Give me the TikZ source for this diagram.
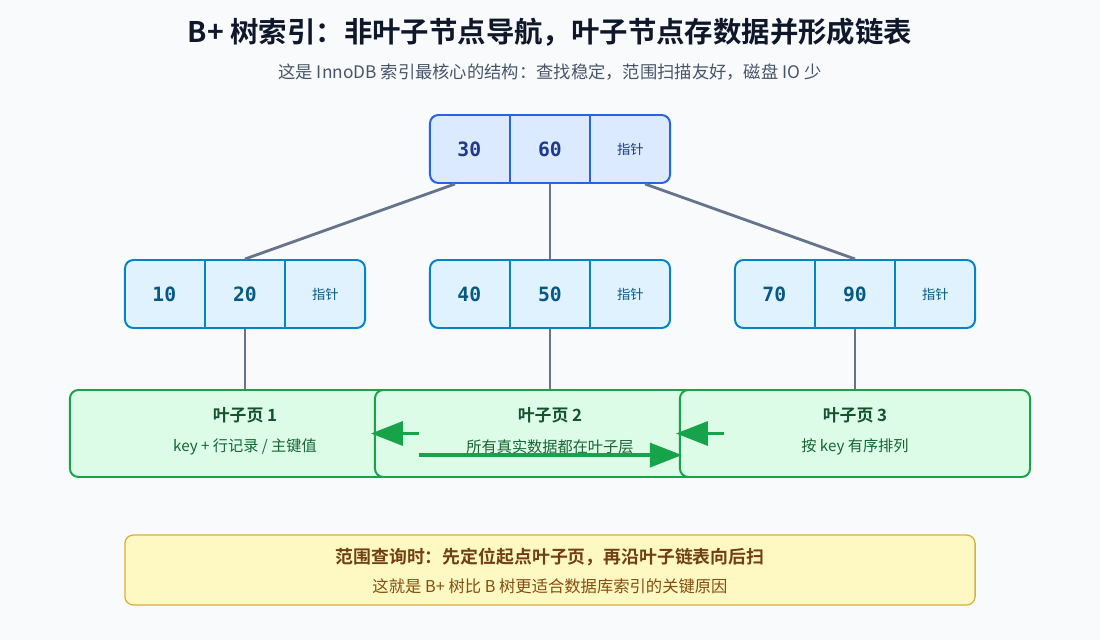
\documentclass[tikz,border=0pt]{standalone}
\usepackage{fontspec}
\setmainfont{Noto Sans CJK SC}[BoldFont={Noto Sans CJK SC Bold}]
\newfontfamily\keyfont{DejaVu Sans Mono}
\usetikzlibrary{positioning,arrows.meta,calc}
\definecolor{PageBg}{HTML}{F8FAFC}
\definecolor{TitleInk}{HTML}{0F172A}
\definecolor{SubInk}{HTML}{475569}
\definecolor{RootBlue}{HTML}{2563EB}
\definecolor{RootFill}{HTML}{DBEAFE}
\definecolor{RootText}{HTML}{1E3A8A}
\definecolor{MidBlue}{HTML}{0284C7}
\definecolor{MidFill}{HTML}{E0F2FE}
\definecolor{MidText}{HTML}{075985}
\definecolor{EdgeGray}{HTML}{64748B}
\definecolor{LeafGreen}{HTML}{16A34A}
\definecolor{LeafFill}{HTML}{DCFCE7}
\definecolor{LeafTitle}{HTML}{14532D}
\definecolor{LeafText}{HTML}{166534}
\definecolor{NoteGold}{HTML}{D9AE3A}
\definecolor{NoteFill}{HTML}{FEF9C3}
\definecolor{NoteTitle}{HTML}{713F12}
\definecolor{NoteText}{HTML}{854D0E}
\tikzset{
  rootbox/.style={draw=RootBlue,fill=RootFill,line width=1.4pt,rounded corners=6pt,
    minimum width=6cm,minimum height=1.7cm},
  midbox/.style={draw=MidBlue,fill=MidFill,line width=1.4pt,rounded corners=6pt,
    minimum width=6cm,minimum height=1.7cm},
  cell/.style={minimum width=2cm,minimum height=1.7cm,inner sep=0pt},
  keytext/.style={cell,font=\keyfont\bfseries\fontsize{14pt}{16pt}\selectfont},
  ptrtext/.style={cell,font=\fontsize{9.5pt}{11pt}\selectfont},
  leafbox/.style={draw=LeafGreen,fill=LeafFill,line width=1.4pt,rounded corners=6pt,
    minimum width=8.75cm,minimum height=2.175cm},
  leafhead/.style={text=LeafTitle,font=\bfseries\fontsize{12pt}{14pt}\selectfont},
  leafnote/.style={text=LeafText,font=\fontsize{10.8pt}{13pt}\selectfont},
  notebox/.style={draw=NoteGold,fill=NoteFill,line width=0.9pt,rounded corners=6pt,
    minimum width=21.25cm,minimum height=1.75cm},
  tree/.style={draw=EdgeGray,line width=2pt},
  linkarrow/.style={draw=LeafGreen,line width=2.4pt,-{Triangle[length=0.8cm,width=0.6cm]}}
}
\begin{document}
\begin{tikzpicture}[x=0.025cm,y=0.025cm]
  \fill[PageBg] (0,0) rectangle (1100,640);
  % title
  \node[text=TitleInk,font=\bfseries\fontsize{20.2pt}{24pt}\selectfont] (title) at (550,608)
    {B+ 树索引：非叶子节点导航，叶子节点存数据并形成链表};
  \node[text=SubInk,font=\fontsize{12.3pt}{15pt}\selectfont] (subtitle) at (550,568)
    {这是 InnoDB 索引最核心的结构：查找稳定，范围扫描友好，磁盘 IO 少};
  % root page
  \node[rootbox] (root) at (550,491) {};
  \node[keytext,text=RootText,anchor=west] (r1) at (root.west) {30};
  \node[keytext,text=RootText,right=0pt of r1] (r2) {60};
  \node[ptrtext,text=RootText,right=0pt of r2] (r3) {指针};
  \draw[RootBlue,line width=1.4pt] (r1.north east) -- (r1.south east);
  \draw[RootBlue,line width=1.4pt] (r2.north east) -- (r2.south east);
  % inner pages
  \foreach \nm/\cx/\ka/\kb in {mA/245/10/20,mB/550/40/50,mC/855/70/90}{
    \node[midbox] (\nm) at (\cx,346) {};
    \node[keytext,text=MidText,anchor=west] (\nm1) at (\nm.west) {\ka};
    \node[keytext,text=MidText,right=0pt of \nm1] (\nm2) {\kb};
    \node[ptrtext,text=MidText,right=0pt of \nm2] (\nm3) {指针};
    \draw[MidBlue,line width=1.4pt] (\nm1.north east) -- (\nm1.south east);
    \draw[MidBlue,line width=1.4pt] (\nm2.north east) -- (\nm2.south east);
  }
  % leaf pages
  \node[leafbox] (leafA) at (245,206.5) {};
  \node[leafbox] (leafB) at (550,206.5) {};
  \node[leafbox] (leafC) at (855,206.5) {};
  \node[leafhead] (headA) at ([yshift=0.46cm]leafA.center) {叶子页 1};
  \node[leafnote] (noteA) at ([yshift=-0.34cm]leafA.center) {key + 行记录 / 主键值};
  \node[leafhead] (headB) at ([yshift=0.46cm]leafB.center) {叶子页 2};
  \node[leafnote] (noteB) at ([yshift=-0.34cm]leafB.center) {所有真实数据都在叶子层};
  \node[leafhead] (headC) at ([yshift=0.46cm]leafC.center) {叶子页 3};
  \node[leafnote] (noteC) at ([yshift=-0.34cm]leafC.center) {按 key 有序排列};
  % tree edges
  \draw[tree] ([xshift=-2.375cm]root.south) -- (mA.north);
  \draw[tree] (root.south) -- (mB.north);
  \draw[tree] ([xshift=2.375cm]root.south) -- (mC.north);
  \draw[tree] (mA.south) -- (leafA.north);
  \draw[tree] (mB.south) -- (leafB.north);
  \draw[tree] (mC.south) -- (leafC.north);
  % leaf chain
  \draw[linkarrow] ([xshift=1.125cm]leafB.west) -- ([xshift=-0.075cm]leafB.west);
  \draw[linkarrow] ([xshift=1.125cm,yshift=-0.54cm]leafB.west) -- ([xshift=0.075cm,yshift=-0.54cm]leafC.west);
  \draw[linkarrow] ([xshift=1.125cm]leafC.west) -- ([xshift=-0.075cm]leafC.west);
  % range scan note
  \node[notebox] (note) at (550,70) {};
  \node[text=NoteTitle,font=\bfseries\fontsize{12.7pt}{15pt}\selectfont] (noteHead) at ([yshift=0.325cm]note.center)
    {范围查询时：先定位起点叶子页，再沿叶子链表向后扫};
  \node[text=NoteText,font=\fontsize{11.6pt}{14pt}\selectfont] (noteSub) at ([yshift=-0.4cm]note.center)
    {这就是 B+ 树比 B 树更适合数据库索引的关键原因};
\end{tikzpicture}
\end{document}
